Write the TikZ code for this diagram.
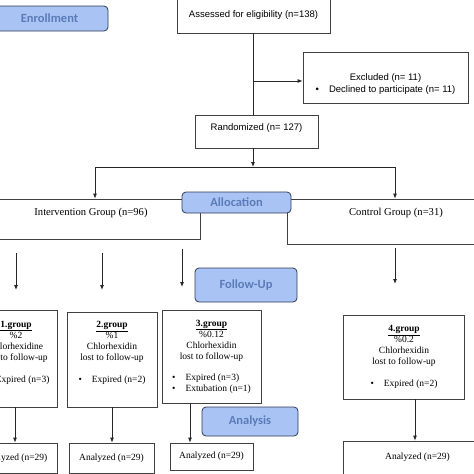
\documentclass[tikz,border=0pt]{standalone}
\usepackage{fontspec}
\setmainfont{Liberation Serif}
\newfontfamily\arialfont{Liberation Sans}
\newfontfamily\phasefont{Carlito}
\usepackage{tikz}
\usetikzlibrary{arrows.meta}
\definecolor{phasefill}{HTML}{A9C4F4}
\definecolor{phasetext}{HTML}{5B7AB8}
\definecolor{phaseline}{HTML}{2E3A55}
\tikzset{
BOX/.style ={draw=black!75,line width=0.8pt,inner sep=0pt},
TXT/.style ={font=\fontsize{9.5}{11}\selectfont,align=center,inner sep=0pt},
ARMTXT/.style ={font=\fontsize{10.6}{12}\selectfont,inner sep=0pt},
SANS/.style ={font=\arialfont\fontsize{9.5}{12}\selectfont,align=center,inner sep=0pt},
PHASE/.style={draw=phaseline,fill=phasefill,rounded corners=4pt,line width=0.8pt,
  text=phasetext,font=\phasefont\bfseries\fontsize{12.5}{14}\selectfont,inner sep=0pt},
ARROW/.style={draw=black!85,line width=0.8pt,-{Latex[length=5pt,width=4pt]}},
LINE/.style ={draw=black!85,line width=0.8pt},
}
\newcommand{\grp}[1]{\underline{\textbf{#1}}}
\newcommand{\itm}{\textbullet\hspace{10pt}}

\begin{document}
\begin{tikzpicture}
[x=1pt,y=-1pt]
	\useasboundingbox (0,0) rectangle (474,474);
	\clip (0,0) rectangle (474,474);
	%Enrollment
	\node[BOX,minimum width=153,minimum height=35] (assess) at (253.5,15.5) {};
	\node[SANS] (assesstxt) at (assess.center) {Assessed for eligibility (n=138)};
	\node[BOX,minimum width=165,minimum height=51] (excl) at (385.5,77.5) {};
	\node[SANS] (excltxt) at (385.5,84) {Excluded (n= 11)\\ \itm Declined to participate (n= 11)};
	\node[BOX,minimum width=123,minimum height=33] (rand) at (256.5,131.5) {};
	\node[SANS] (randtxt) at (256.5,128) {Randomized (n= 127)};
	\coordinate (exsplit) at (253,81);
	\draw[LINE] (assess.south -| exsplit) -- (rand.north -| exsplit);
	\draw[ARROW] (exsplit) -- (exsplit -| excl.west);
	%Allocation
	\coordinate (split) at (253,167);
	\coordinate (splitL) at (95,167);
	\coordinate (splitR) at (395,167);
	\node[BOX,minimum width=218,minimum height=40] (interv) at (91,219) {};
	\node[ARMTXT] (intervtxt) at (91,213) {Intervention Group (n=96)};
	\node[BOX,minimum width=218,minimum height=45] (ctrl) at (396,221.5) {};
	\node[ARMTXT] (ctrltxt) at (396,213) {Control Group (n=31)};
	\draw[ARROW] (rand.south -| split) -- (split);
	\draw[LINE] (splitL) -- (splitR);
	\draw[ARROW] (splitL) -- (splitL |- interv.north);
	\draw[ARROW] (splitR) -- (splitR |- ctrl.north);
	%Follow-up
	\foreach \nm/\xa/\ya/\yb in {f1/16/253/290, f2/102/253/290, f3/182/249/287, f4/395/248/284}{
		\coordinate (\nm a) at (\xa,\ya);
		\coordinate (\nm b) at (\xa,\yb);
		\draw[ARROW] (\nm a) -- (\nm b);
	}
	\node[BOX,minimum width=82,minimum height=97] (g1) at (16,358.5) {};
	\node[TXT] (g1txt) at (16,352.5) {\grp{1.group}\\ \%2\\ Chlorhexidine\\ lost to follow-up\\[11pt] \itm Expired (n=3)};
	\node[BOX,minimum width=90,minimum height=95] (g2) at (112,359.5) {};
	\node[TXT] (g2txt) at (112,353) {\grp{2.group}\\ \%1\\ Chlorhexidin\\ lost to follow-up\\[11pt] \itm Expired (n=2)};
	\node[BOX,minimum width=99,minimum height=93] (g3) at (211.5,356.5) {};
	\node[TXT] (g3txt) at (211.5,357.5) {\grp{3.group}\\ \%0.12\\ Chlorhexidin\\ lost to follow-up\\[11pt]
		\begin{tabular}{@{}l@{}}\itm Expired (n=3)\\ \itm Extubation (n=1)\end{tabular}};
	\node[BOX,minimum width=121,minimum height=84] (g4) at (403.5,357) {};
	\node[TXT] (g4txt) at (404,357) {\grp{4.group}\\ \%0.2\\ Chlorhexidin\\ lost to follow-up\\[11pt] \itm Expired (n=2)};
	%Analysis
	\node[BOX,minimum width=84,minimum height=30] (a1) at (15,458) {};
	\node[TXT] (a1txt) at (a1.center) {Analyzed (n=29)};
	\node[BOX,minimum width=85,minimum height=30] (a2) at (111.5,458) {};
	\node[TXT] (a2txt) at (a2.center) {Analyzed (n=29)};
	\node[BOX,minimum width=83,minimum height=27] (a3) at (211.5,456.5) {};
	\node[TXT] (a3txt) at (a3.center) {Analyzed (n=29)};
	\node[BOX,minimum width=149,minimum height=33] (a4) at (417.5,457.5) {};
	\node[TXT] (a4txt) at (a4.center) {Analyzed (n=29)};
	\draw[ARROW] (g1.south -| a1.north) -- (a1.north);
	\draw[ARROW] (g2.south) -- (g2.south |- a2.north);
	\draw[ARROW] ([xshift=-21.5pt]g3.south) -- ([xshift=-21.5pt]g3.south |- a3.north);
	\draw[ARROW] ([xshift=-2.5pt]g4.south -| a4.north) -- ([xshift=-2.5pt]a4.north);
	%Phase labels
	\node[PHASE,minimum width=117,minimum height=25] (enroll) at (49.5,18.5) {Enrollment};
	\node[PHASE,minimum width=109,minimum height=21] (alloc) at (236.5,202.5) {Allocation};
	\node[PHASE,minimum width=102,minimum height=34] (follow) at (246,285) {Follow-Up};
	\node[PHASE,minimum width=96,minimum height=29] (analysis) at (250,421.5) {Analysis};
\end{tikzpicture}
\end{document}
